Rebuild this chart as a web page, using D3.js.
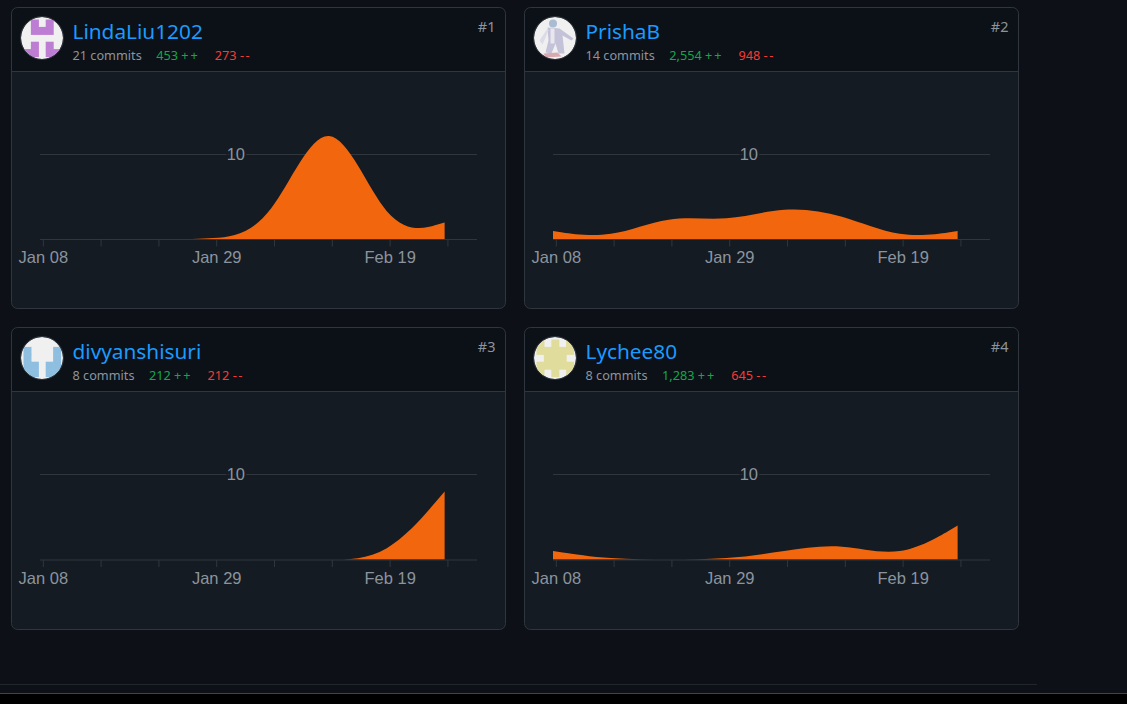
<!DOCTYPE html>
<meta charset="utf-8">
<head>
  <title>Contributors</title>
</head>

<style>
html, body { margin: 0; padding: 0; background: #0d1117; overflow: hidden; }
svg { display: block; }
.name { font-family: "Noto Sans", sans-serif; font-size: 20.8px; fill: #1a9bff; }
.meta { font-family: "Noto Sans", sans-serif; font-size: 12.7px; }
.rank { font-family: "Noto Sans", sans-serif; font-size: 14.5px; fill: #8b949e; text-anchor: end; }
.axis text { font-family: "Liberation Sans", Arial, sans-serif; font-size: 16.5px; fill: #8b949e; }
.axis path, .axis line { stroke: #30363d; }
.grid { stroke: #30363d; stroke-width: 1; }
.ylabel { font-family: "Liberation Sans", Arial, sans-serif; font-size: 16.5px; fill: #8b949e; text-anchor: end; dominant-baseline: central; paint-order: stroke; stroke: #151b23; stroke-width: 4px; }
.area { fill: #f2670d; }
</style>

<body>
  <svg width="1127" height="704"></svg>

  <script src="https://cdn.jsdelivr.net/npm/d3@7"></script>
  <script>
// weekly buckets, the area curve is a basis spline so the knots sit lower than these
var weeks = ["2024-01-07T14:24Z", "2024-01-14T14:24Z", "2024-01-21T14:24Z", "2024-01-28T14:24Z",
  "2024-02-04T14:24Z", "2024-02-11T14:24Z", "2024-02-18T14:24Z", "2024-02-25T14:24Z"];
var xEnd = "2024-02-29T12:30Z";
var tickDates = ["2024-01-08", "2024-01-15", "2024-01-22", "2024-01-29",
  "2024-02-05", "2024-02-12", "2024-02-19", "2024-02-26"];

var names = ["LindaLiu1202", "PrishaB", "divyanshisuri", "Lychee80"];
var commits = [21, 14, 8, 8];
var additions = [453, 2554, 212, 1283];
var deletions = [273, 948, 212, 645];

var lindaWeekly = [0, 0, 0, 0, 1, 18, 0, 2];
var prishaWeekly = [1, 0, 3, 2, 4, 3, 0, 1];
var divyanshiWeekly = [0, 0, 0, 0, 0, 0, 0, 8];
var lycheeWeekly = [1, 0, 0, 0, 1, 2, 0, 4];
var weekly = [lindaWeekly, prishaWeekly, divyanshiWeekly, lycheeWeekly];

// identicons, 5x5, [row, col]
var iconColors = ["#bd7dd3", null, "#8fbfe0", "#e0dc9c"];
var iconCells = [
  [[0,1],[0,3],[1,1],[1,2],[1,3],[3,1],[3,3],[4,0],[4,1],[4,3],[4,4]],
  [],
  [[1,0],[1,4],[2,0],[2,4],[3,0],[3,1],[3,3],[3,4],[4,0],[4,1],[4,3],[4,4]],
  [[0,0],[0,2],[0,4],[1,0],[1,1],[1,2],[1,3],[1,4],[2,1],[2,2],[2,3],
   [3,0],[3,1],[3,2],[3,3],[3,4],[4,0],[4,2],[4,4]]
];

var cardX = [11.5, 524.5];
var cardY = [7.5, 327.5];
var cardH = [301, 302];
var axisNudge = [0, 0.5]; // bottom row axis falls across two pixels
var cardW = 494, headH = 64;

var svg = d3.select("svg");
svg.append("rect").attr("width", 1127).attr("height", 704).attr("fill", "#0d1117");

// PrishaB has a photo, this is just a rough sketch of it
svg.append("filter").attr("id", "soft").append("feGaussianBlur").attr("stdDeviation", 0.7);

var x = d3.scaleUtc()
  .domain([new Date(weeks[0]), new Date(xEnd)])
  .range([28.5, 465.5]);
var y = d3.scaleLinear().domain([0, 10]).range([232, 147]);

var fmt = d3.utcFormat("%b %d");
var tickVals = tickDates.map(function(d) { return new Date(d); });

var area = d3.area()
  .x(function(d, i) { return x(new Date(weeks[i])); })
  .y0(y(0))
  .y1(function(d) { return y(d); })
  .curve(d3.curveBasis);

names.forEach(function(name, i) {
  var row = Math.floor(i / 2);
  var h = cardH[row];
  var g = svg.append("g")
    .attr("transform", "translate(" + cardX[i % 2] + "," + cardY[row] + ")");

  var clipId = "card" + i;
  g.append("clipPath").attr("id", clipId)
    .append("rect").attr("width", cardW).attr("height", h).attr("rx", 6);
  g.append("rect").attr("width", cardW).attr("height", h).attr("fill", "#151b23")
    .attr("clip-path", "url(#" + clipId + ")");
  g.append("rect").attr("width", cardW).attr("height", headH).attr("fill", "#0c1017")
    .attr("clip-path", "url(#" + clipId + ")");
  g.append("line").attr("x1", 0).attr("x2", cardW).attr("y1", headH).attr("y2", headH)
    .attr("stroke", "#30363d");
  g.append("rect").attr("width", cardW).attr("height", h).attr("rx", 6)
    .attr("fill", "none").attr("stroke", "#30363d");

  // avatar
  var av = g.append("g").attr("transform", "translate(9,9)");
  var avId = "avatar" + i;
  av.append("clipPath").attr("id", avId).append("circle").attr("cx", 21.5).attr("cy", 21.5).attr("r", 21);
  var inner = av.append("g").attr("clip-path", "url(#" + avId + ")");
  inner.append("rect").attr("width", 43).attr("height", 43).attr("fill", "#f0f0f0");
  var cell = d3.scaleBand().domain([0, 1, 2, 3, 4]).range([3, 40]);
  inner.selectAll(".cell").data(iconCells[i]).enter().append("rect")
    .attr("x", function(d) { return cell(d[1]); })
    .attr("y", function(d) { return cell(d[0]); })
    .attr("width", cell.bandwidth() + 0.6)
    .attr("height", cell.bandwidth() + 0.6)
    .attr("fill", iconColors[i]);
  if (i === 1) {
    var fig = inner.append("g").attr("filter", "url(#soft)");
    fig.append("path").attr("d", "M14 11 L26 12 L40 22 L38 24 L29 19 L31 37 L25 37 L22 27 L18 37 L12 36 L15 24 Z")
      .attr("fill", "#c3c2d8");
    fig.append("circle").attr("cx", 19.5).attr("cy", 7).attr("r", 4).attr("fill", "#a9bcd2");
    fig.append("path").attr("d", "M17 12 L21 12 L21 27 L17 27 Z").attr("fill", "#e8e6ef");
    fig.append("path").attr("d", "M6 24 L14 12 L15 14 L9 28 Z").attr("fill", "#dcdce6");
    fig.append("path").attr("d", "M10 37 L24 36 L28 40 L12 41 Z").attr("fill", "#d9a9b0");
  }
  av.append("circle").attr("cx", 21.5).attr("cy", 21.5).attr("r", 21.5)
    .attr("fill", "none").attr("stroke", "#30363d");

  g.append("text").attr("class", "name").attr("x", 61).attr("y", 31.5).text(name);

  var meta = g.append("text").attr("class", "meta").attr("x", 61).attr("y", 52);
  meta.append("tspan").attr("fill", "#8b949e").text(commits[i] + " commits");
  meta.append("tspan").attr("fill", "#12a84a").attr("dx", 14.5).text(d3.format(",")(additions[i]) + " ");
  meta.append("tspan").attr("fill", "#12a84a").attr("letter-spacing", 2).text("++");
  meta.append("tspan").attr("fill", "#f93a32").attr("dx", 15).text(deletions[i] + " ");
  meta.append("tspan").attr("fill", "#f93a32").attr("letter-spacing", 1.5).text("--");

  g.append("text").attr("class", "rank").attr("x", cardW - 10).attr("y", 24).text("#" + (i + 1));

  g.append("line").attr("class", "grid")
    .attr("x1", x.range()[0]).attr("x2", x.range()[1])
    .attr("y1", y(10)).attr("y2", y(10));

  g.append("text").attr("class", "ylabel").attr("x", 233.5).attr("y", y(10) - 1).text("10");

  g.append("path").datum(weekly[i]).attr("class", "area").attr("d", area);

  var axis = d3.axisBottom(x)
    .tickValues(tickVals)
    .tickSize(7)
    .tickSizeOuter(0)
    .tickPadding(5)
    .offset(0)
    .tickFormat(function(d, k) { return k % 3 === 0 ? fmt(d) : ""; });
  g.append("g").attr("class", "axis")
    .attr("transform", "translate(0," + (y(0) + axisNudge[row]) + ")")
    .call(axis);
});

// footer rules
svg.append("line").attr("x1", 0).attr("x2", 1037).attr("y1", 684.5).attr("y2", 684.5).attr("stroke", "#21262d");
svg.append("rect").attr("x", 0).attr("y", 694).attr("width", 1127).attr("height", 10).attr("fill", "#000");
svg.append("line").attr("x1", 0).attr("x2", 1127).attr("y1", 693.5).attr("y2", 693.5).attr("stroke", "#444");
  </script>
</body>
</html>
